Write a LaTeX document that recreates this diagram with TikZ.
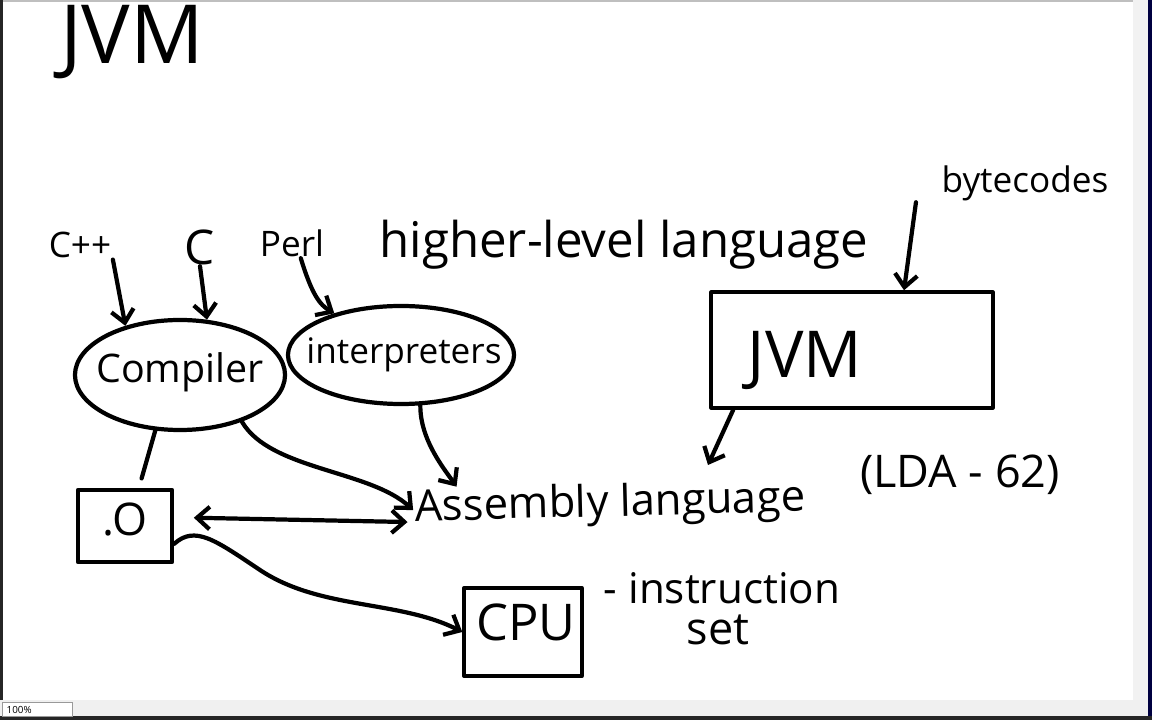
\documentclass[tikz,border=0pt]{standalone}
\usepackage{fontspec}
\setmainfont{Open Sans}
\usepackage{xcolor}
\usetikzlibrary{shapes,arrows.meta,positioning,calc}

\tikzset{
  ink/.style={line width=3pt, line cap=round, line join=round},
  arr/.style={ink, -{Straight Barb[length=9pt,width=16pt]}},
  dbl/.style={ink, {Straight Barb[length=9pt,width=16pt]}-{Straight Barb[length=9pt,width=16pt]}},
  blob/.style={draw, ink, ellipse, inner sep=0pt},
  box/.style={draw, ink, rectangle, inner sep=0pt},
  hand/.style={inner sep=1pt, font=\fontsize{#1}{#1}\selectfont},
  hand/.default=28
}

\begin{document}
\begin{tikzpicture}[x=0.025cm,y=-0.025cm]
    \useasboundingbox (0,0) rectangle (1152,720);
    % 画板
    \fill[white] (0,0) rectangle (1152,720);
    \fill[black!25] (0,0) rectangle (1148,2);
    \fill[black!85] (0,0) rectangle (3,700);
    \fill[black!5] (1133,0) rectangle (1148,700);
    \fill[blue!25!black] (1148,0) rectangle (1152,720);
    \fill[black!6] (0,700) rectangle (1148,716);
    \fill[black!85] (0,716) rectangle (1152,720);
    \draw[black!40,fill=white] (2,702) rectangle (72,716);
    \node[hand=7, anchor=west] (zoom) at (5,709.5) {100\%};
    % 标题
    \node[hand=58] (title) at (132,42) {JVM};
    % 高级语言
    \node[hand=25] (cpp) at (80,245) {C++};
    \node[hand=34] (clang) at (200,247) {C};
    \node[hand=25] (perl) at (292,243) {Perl};
    \node[hand=35] (hll) at (624,245) {higher-level language};
    % 编译器和解释器
    \node[blob, minimum width=5.25cm, minimum height=2.75cm] (compiler) at (180,375) {};
    \node[hand=28] (complbl) at (180,372) {Compiler};
    \node[blob, minimum width=5.65cm, minimum height=2.45cm] (interp) at (401,355) {};
    \node[hand=25] (interplbl) at (404,355) {interpreters};
    % JVM
    \node[hand=25] (bytecodes) at (1025,183) {bytecodes};
    \node[box, minimum width=7.03cm, minimum height=2.88cm] (jvm) at (852,350) {};
    \node[hand=46] (jvmlbl) at (805,360) {JVM};
    % 汇编
    \node[hand=31, rotate=1.5] (asm) at (610,505) {Assembly language};
    \node[hand=32] (lda) at (960,475) {(LDA - 62)};
    \coordinate (asmtip) at (708,465);
    % .o 和 CPU
    \node[box, minimum width=2.35cm, minimum height=1.8cm] (obj) at (125,526) {};
    \node[hand=32] (objlbl) at (125,520) {.O};
    \node[box, minimum width=2.93cm, minimum height=2.2cm] (cpu) at (523,632) {};
    \node[hand=36] (cpulbl) at (526,622) {CPU};
    \node[hand=30] (instr) at (722,588) {- instruction};
    \node[hand=32] (setlbl) at (718,630) {set};
    % 箭头
    \draw[arr] (cpp.south east) -- (compiler.138);
    \draw[arr] (clang.south) -- (compiler.64);
    \draw[arr] (perl.-60) .. controls (312,295) and (320,305) .. (interp.148);
    \draw[ink, shorten >=7pt] (compiler.246) -- (obj.70);
    \draw[arr] (compiler.-37) .. controls (270,470) and (370,470) .. (asm.west);
    \draw[arr] (interp.-69) .. controls (420,440) and (445,470) .. ([xshift=1.1cm]asm.north west);
    \draw[dbl, shorten <=14pt, shorten >=4pt] (obj.10) -- ([yshift=-0.3cm]asm.west);
    \draw[arr] (obj.-20) .. controls (195,525) and (215,540) .. (260,570)
      .. controls (320,610) and (400,600) .. (cpu.west);
    \draw[arr] ([xshift=-0.6cm]bytecodes.south west) -- ([xshift=1.3cm]jvm.north);
    \draw[arr] ([xshift=0.6cm]jvm.south west) -- (asmtip);
\end{tikzpicture}
\end{document}
